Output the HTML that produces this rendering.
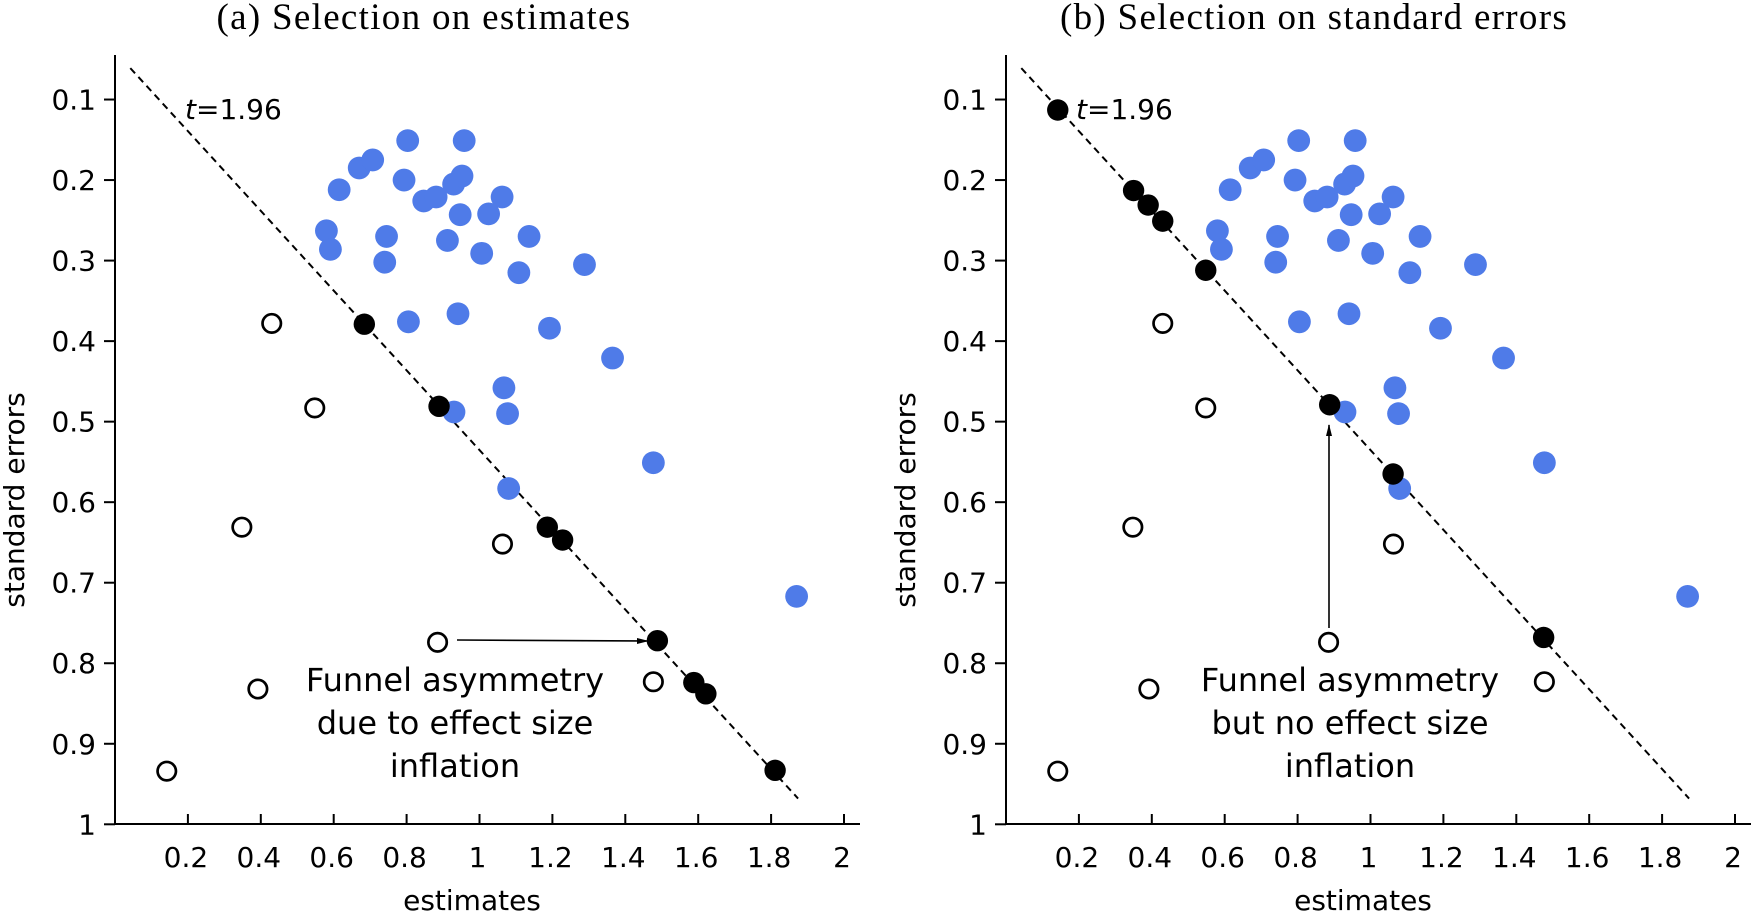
<!DOCTYPE html>
<html><head><meta charset="utf-8"><style>
html,body{margin:0;padding:0;background:#fff;width:1751px;height:912px;overflow:hidden}
svg text{font-family:"DejaVu Sans","Liberation Sans",sans-serif}
</style></head><body>
<svg id="chart" width="1751" height="912" viewBox="0 0 1751 912" xmlns="http://www.w3.org/2000/svg">
<defs><marker id="ah" markerWidth="12" markerHeight="8" refX="11" refY="4" orient="auto" markerUnits="userSpaceOnUse"><path d="M0,1 L12,4 L0,7 Z" fill="#000"/></marker></defs>
</svg>
<script>
const blueEst=[0.803,0.958,0.670,0.707,0.793,0.615,0.929,0.952,0.847,0.881,1.062,0.947,1.025,0.580,0.591,0.745,0.740,0.912,1.006,1.136,1.108,1.288,0.805,0.941,1.192,1.365,1.067,0.930,1.077,1.477,1.080,1.870];
const blueSe=[0.151,0.151,0.185,0.175,0.200,0.212,0.205,0.195,0.226,0.221,0.221,0.243,0.242,0.263,0.286,0.270,0.302,0.275,0.291,0.270,0.315,0.305,0.376,0.366,0.384,0.421,0.458,0.488,0.490,0.551,0.583,0.717];
const openEst=[0.430,0.548,0.348,1.063,0.885,1.477,0.392,0.142];
const openSe=[0.378,0.483,0.631,0.652,0.774,0.823,0.832,0.934];
const blackAEst=[0.684,0.889,1.186,1.228,1.488,1.588,1.621,1.811];
const blackASe=[0.379,0.481,0.631,0.647,0.772,0.824,0.838,0.933];
const blackBEst=[0.142,0.350,0.390,0.430,0.548,0.888,1.062,1.475];
const blackBSe=[0.113,0.213,0.231,0.251,0.312,0.479,0.565,0.768];
const xTicks=[0.2,0.4,0.6,0.8,1,1.2,1.4,1.6,1.8,2];
const yTicks=[0.1,0.2,0.3,0.4,0.5,0.6,0.7,0.8,0.9,1];
const lineEst=[0.042,1.874];
const lineSe=[0.061,0.968];
const NS="http://www.w3.org/2000/svg";
const svg=document.getElementById('chart');
function mk(tag,attrs,parent,text){const e=document.createElementNS(NS,tag);for(const k in attrs)e.setAttribute(k,attrs[k]);if(text!==undefined)e.textContent=text;(parent||svg).appendChild(e);return e;}
function panel(ox,id,title,titleX,blE,blS,annLines,annX,arrow){
  const g=mk('g',{});
  
  
  const X=v=>ox+v*364.5, Y=v=>19+v*805.3;
  const t=mk('text',{x:titleX,y:29,'font-size':37,'text-anchor':'middle',style:'font-family:"Liberation Serif",serif;letter-spacing:1.3px'},g,title);
  
  const ax=mk('path',{d:`M${ox} 55 L${ox} 824 L${Math.min(ox+745,1751)} 824`,stroke:'#000','stroke-width':2,fill:'none'},g);
  
  xTicks.forEach(v=>{
    const tk=mk('line',{x1:X(v),x2:X(v),y1:824,y2:814,stroke:'#000','stroke-width':2},g);
    
    const l=mk('text',{x:X(v)-2,y:867,'font-size':28,'text-anchor':'middle'},g,String(v));
    
  });
  yTicks.forEach(v=>{
    const tk=mk('line',{x1:ox-11,x2:ox,y1:Y(v),y2:Y(v),stroke:'#000','stroke-width':2},g);
    
    const l=mk('text',{x:ox-19,y:Y(v)+10,'font-size':28,'text-anchor':'end'},g,String(v));
    
  });
  const xl=mk('text',{x:ox+357,y:910,'font-size':28,'text-anchor':'middle'},g,'estimates');
  
  const yl=mk('text',{x:0,y:0,'font-size':28,'text-anchor':'middle',transform:`translate(${ox-91},500) rotate(-90)`},g,'standard errors');
  
  const dl=mk('line',{x1:X(lineEst[0]),y1:Y(lineSe[0]),x2:X(lineEst[1]),y2:Y(lineSe[1]),stroke:'#000','stroke-width':2,'stroke-dasharray':'7,5'},g);
  
  blueEst.forEach((v,i)=>{
    const c=mk('circle',{cx:X(v),cy:Y(blueSe[i]),r:11.4,fill:'#4f7be8'},g);
    
  });
  openEst.forEach((v,i)=>{
    const c=mk('circle',{cx:X(v),cy:Y(openSe[i]),r:9.2,fill:'#fff',stroke:'#000','stroke-width':2.7},g);
    
  });
  blE.forEach((v,i)=>{
    const c=mk('circle',{cx:X(v),cy:Y(blS[i]),r:10.7,fill:'#000'},g);
    
  });
  const tl=mk('text',{x:ox+70,y:119,'font-size':28},g);
  
  mk('tspan',{'font-style':'italic'},tl,'t');mk('tspan',{},tl,'=1.96');
  annLines.forEach((s,i)=>{
    const a=mk('text',{x:annX,y:691+i*43,'font-size':32,'text-anchor':'middle'},g,s);
    
  });
  const ar=mk('line',{x1:arrow[0],y1:arrow[1],x2:arrow[2],y2:arrow[3],stroke:'#000','stroke-width':1.6,'marker-end':'url(#ah)'},g);
  
}
panel(115,'a','(a) Selection on estimates',424,blackAEst,blackASe,['Funnel asymmetry','due to effect size','inflation'],455,[457,640,648,641]);
panel(1006,'b','(b) Selection on standard errors',1314,blackBEst,blackBSe,['Funnel asymmetry','but no effect size','inflation'],1350,[1329,628,1329,425]);
</script>
</body></html>
